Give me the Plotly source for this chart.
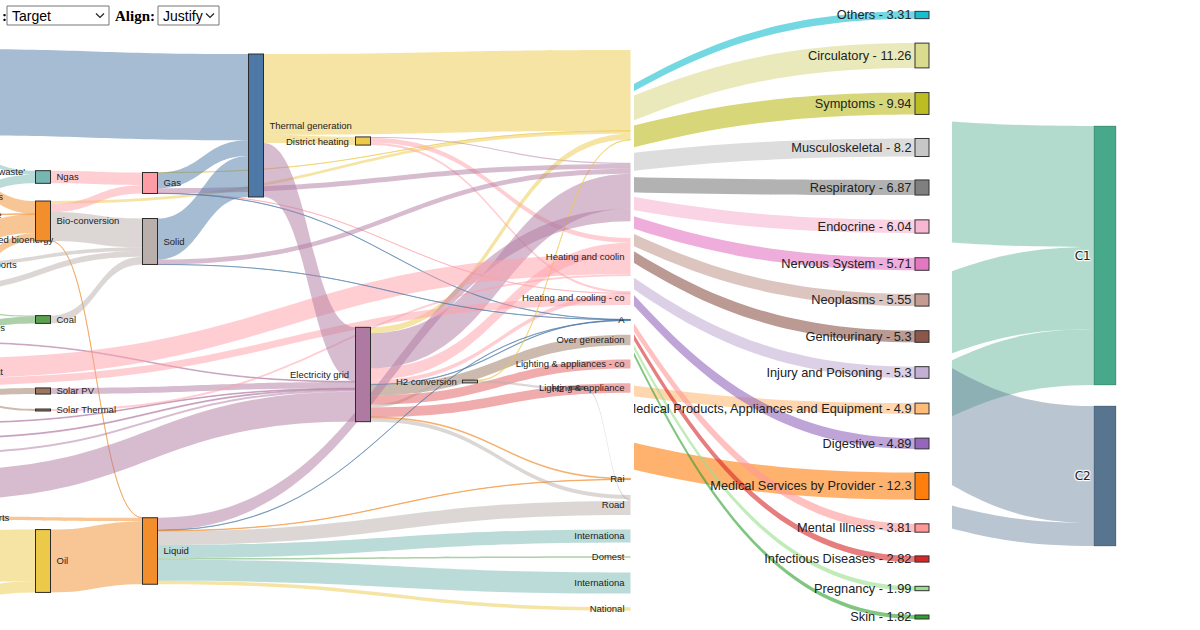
import plotly.graph_objects as go

W, H = 1200, 630

# ------------------------------------------------------------------
# DATA — left panel: energy flows (TWh)
# ------------------------------------------------------------------
energy_source = [
    "Agricultural 'waste'", "Bio-conversion", "Bio-conversion", "Bio-conversion", "Bio-conversion",
    "Biofuel imports", "Biomass imports", "Coal imports", "Coal reserves", "Coal",
    "District heating", "District heating", "District heating",
    "Electricity grid", "Electricity grid", "Electricity grid", "Electricity grid", "Electricity grid",
    "Electricity grid", "Electricity grid", "Electricity grid", "Electricity grid", "Electricity grid",
    "Electricity grid",
    "Gas imports", "Gas reserves", "Gas", "Gas", "Gas", "Gas", "Gas",
    "Geothermal", "H2 conversion", "H2 conversion", "H2", "Hydro",
    "Liquid", "Liquid", "Liquid", "Liquid", "Liquid", "Liquid", "Liquid", "Liquid",
    "Marine algae", "Ngas", "Nuclear", "Oil imports", "Oil reserves", "Oil",
    "Other waste", "Other waste", "Pumped heat", "Pumped heat", "Solar PV", "Solar Thermal",
    "Solar", "Solar", "Solid", "Solid", "Solid",
    "Thermal generation", "Thermal generation", "Thermal generation",
    "Tidal", "UK land based bioenergy", "Wave", "Wind",
]
energy_target = [
    "Bio-conversion", "Liquid", "Losses", "Solid", "Gas",
    "Liquid", "Solid", "Coal", "Coal", "Solid",
    "Industry", "Heating and cooling - commercial", "Heating and cooling - homes",
    "Over generation / exports", "Heating and cooling - homes", "H2 conversion", "Industry", "Road transport",
    "Agriculture", "Heating and cooling - commercial", "Losses", "Rail transport",
    "Lighting & appliances - commercial", "Lighting & appliances - homes",
    "Ngas", "Ngas", "Heating and cooling - commercial", "Losses", "Thermal generation", "Agriculture", "Industry",
    "Electricity grid", "H2", "Losses", "Road transport", "Electricity grid",
    "Industry", "International shipping", "Road transport", "Domestic aviation", "International aviation",
    "Agriculture", "National navigation", "Rail transport",
    "Bio-conversion", "Gas", "Thermal generation", "Oil", "Oil", "Liquid",
    "Solid", "Bio-conversion", "Heating and cooling - homes", "Heating and cooling - commercial",
    "Electricity grid", "Heating and cooling - homes",
    "Solar Thermal", "Solar PV", "Agriculture", "Thermal generation", "Industry",
    "Electricity grid", "Losses", "District heating",
    "Electricity grid", "Bio-conversion", "Electricity grid", "Electricity grid",
]
energy_value = [
    124.729, 0.597, 26.862, 280.322, 81.144,
    35, 35, 11.606, 63.965, 75.571,
    10.639, 22.505, 46.184,
    104.453, 113.726, 27.14, 342.165, 37.797,
    4.412, 40.858, 56.691, 7.863,
    90.008, 93.494,
    40.719, 82.233, 0.129, 1.401, 151.891, 2.096, 48.58,
    7.013, 20.897, 6.242, 20.897, 6.995,
    121.066, 128.69, 135.835, 14.458, 206.267,
    3.64, 33.218, 4.413,
    4.375, 122.952, 839.978, 504.287, 107.703, 611.99,
    56.587, 77.81, 193.026, 70.672,
    59.901, 19.263,
    19.263, 59.901, 0.882, 400.12, 46.477,
    525.531, 787.129, 79.329,
    9.452, 182.01, 19.013, 289.366,
]
energy_nodes = [
    "Nuclear", "Gas imports", "Agricultural 'waste'", "Gas reserves", "Marine algae",
    "UK land based bioenergy", "Biomass imports", "Other waste", "Coal imports", "Coal reserves",
    "Geothermal", "Pumped heat", "Solar", "Hydro", "Tidal", "Wave", "Wind", "Biofuel imports",
    "Oil imports", "Oil reserves",
    "Ngas", "Bio-conversion", "Coal", "Solar PV", "Solar Thermal", "Oil",
    "Gas", "Solid", "Liquid",
    "Thermal generation",
    "District heating", "Electricity grid",
    "H2 conversion", "H2",
    "Losses", "Industry", "Heating and cooling - homes", "Heating and cooling - commercial",
    "Agriculture", "Over generation / exports", "Lighting & appliances - commercial",
    "Lighting & appliances - homes", "Rail transport", "Road transport",
    "International shipping", "Domestic aviation", "International aviation", "National navigation",
]
# visible (cropped) part of the right-hand labels
energy_label_visible = {
    "Losses": "", "Industry": "",
    "Heating and cooling - homes": "Heating and coolin",
    "Heating and cooling - commercial": "Heating and cooling - co",
    "Agriculture": "A",
    "Over generation / exports": "Over generation",
    "Lighting & appliances - commercial": "Lighting & appliances - co",
    "Lighting & appliances - homes": "Lighting & appliance",
    "Rail transport": "Rai", "Road transport": "Road",
    "International shipping": "Internationa", "Domestic aviation": "Domest",
    "International aviation": "Internationa", "National navigation": "National",
}
# nodes in the right half of the energy chart carry their label on the left
energy_left_labels = ["District heating", "Electricity grid", "H2 conversion", "H2"]

# ------------------------------------------------------------------
# DATA — middle panel: health expenditure by category
# ------------------------------------------------------------------
health_categories = [
    "Others", "Circulatory", "Symptoms", "Musculoskeletal", "Respiratory", "Endocrine",
    "Nervous System", "Neoplasms", "Genitourinary", "Injury and Poisoning",
    "Medical Products, Appliances and Equipment", "Digestive", "Medical Services by Provider",
    "Mental Illness", "Infectious Diseases", "Pregnancy", "Skin",
]
health_values = [3.31, 11.26, 9.94, 8.2, 6.87, 6.04, 5.71, 5.55, 5.3, 5.3, 4.9, 4.89, 12.3,
                 3.81, 2.82, 1.99, 1.82]

# ------------------------------------------------------------------
# DATA — right panel: clusters
# ------------------------------------------------------------------
cluster_targets = ["C1", "C2"]
cluster_flow_target = ["C1", "C1", "C1", "C2", "C2"]
cluster_flow_value = [121, 82, 56, 117, 23]

# ------------------------------------------------------------------
# STYLE / LAYOUT
# ------------------------------------------------------------------
T10 = dict(blue="#4e79a7", orange="#f28e2c", red="#e15759", teal="#76b7b2", green="#59a14f",
           yellow="#edc949", purple="#af7aa1", pink="#ff9da7", brown="#9c755f", gray="#bab0ab")
energy_color = {
    "Thermal generation": T10["blue"], "Ngas": T10["teal"], "Bio-conversion": T10["orange"],
    "Gas": T10["pink"], "Solid": T10["gray"], "Coal": T10["green"], "Liquid": T10["orange"],
    "Oil": T10["yellow"], "Electricity grid": T10["purple"], "District heating": T10["yellow"],
    "Solar PV": T10["brown"], "Solar Thermal": T10["brown"], "H2 conversion": T10["gray"],
    "H2": T10["gray"], "Losses": T10["yellow"], "Industry": T10["purple"],
    "Heating and cooling - homes": T10["pink"], "Heating and cooling - commercial": T10["pink"],
    "Agriculture": T10["blue"], "Over generation / exports": T10["brown"],
    "Lighting & appliances - commercial": T10["red"], "Lighting & appliances - homes": T10["red"],
    "Rail transport": T10["orange"], "Road transport": T10["gray"],
    "International shipping": T10["teal"], "Domestic aviation": T10["green"],
    "International aviation": T10["teal"], "National navigation": T10["yellow"],
}
# node centres in px (column, y) inside the left panel
col_x = [-67, 43, 150, 256, 363, 470, 577, 638]
NODE_W = 15
energy_pos = {
    "Nuclear": (0, 92), "Gas imports": (0, 150), "Agricultural 'waste'": (0, 172),
    "Gas reserves": (0, 197), "Marine algae": (0, 215), "UK land based bioenergy": (0, 240),
    "Biomass imports": (0, 265), "Other waste": (0, 285), "Coal imports": (0, 310),
    "Coal reserves": (0, 328), "Geothermal": (0, 342), "Pumped heat": (0, 372), "Solar": (0, 395),
    "Hydro": (0, 423), "Tidal": (0, 438), "Wave": (0, 453), "Wind": (0, 485),
    "Biofuel imports": (0, 518), "Oil imports": (0, 557), "Oil reserves": (0, 595),
    "Ngas": (1, 177), "Bio-conversion": (1, 221), "Coal": (1, 319.5), "Solar PV": (1, 391),
    "Solar Thermal": (1, 410), "Oil": (1, 561),
    "Gas": (2, 183), "Solid": (2, 241.5), "Liquid": (2, 551),
    "Thermal generation": (3, 125.5),
    "District heating": (4, 141), "Electricity grid": (4, 374.5),
    "H2 conversion": (5, 381.5), "H2": (6, 388),
    "Losses": (7, 95), "Industry": (7, 192), "Heating and cooling - homes": (7, 257),
    "Heating and cooling - commercial": (7, 298), "Agriculture": (7, 320),
    "Over generation / exports": (7, 340), "Lighting & appliances - commercial": (7, 364),
    "Lighting & appliances - homes": (7, 388), "Rail transport": (7, 479),
    "Road transport": (7, 505), "International shipping": (7, 536),
    "Domestic aviation": (7, 557), "International aviation": (7, 583),
    "National navigation": (7, 609),
}
health_colors = ["#17becf", "#dbdb8d", "#bcbd22", "#c7c7c7", "#7f7f7f", "#f7b6d2", "#e377c2",
                 "#c49c94", "#8c564b", "#c5b0d5", "#ffbb78", "#9467bd", "#ff7f0e", "#ff9896",
                 "#d62728", "#98df8a", "#2ca02c"]
health_target_y = [15, 55.5, 103.5, 147.5, 187.5, 226.5, 264, 300, 336.5, 372.5, 408.5, 443.5,
                   486, 528, 559, 588.5, 617]
health_stub_y = [190, 182, 183, 182, 181, 171, 164, 155, 145, 158, 366, 98, 414, 44, 24, 6.5, -17]
cluster_color = {"C1": "#48a98a", "C2": "#587590"}
cluster_target_y = {"C1": 255.5, "C2": 476}
cluster_stub_y = [177, 340, 424, 383, 497]

CLEAR = "rgba(0,0,0,0)"
LABEL_FONT = "Liberation Sans, Arial, sans-serif"
LEFT_FONT_SIZE = 9.5


def rgba(hexc, a):
    h = hexc.lstrip("#")
    return "rgba(%d,%d,%d,%s)" % (int(h[0:2], 16), int(h[2:4], 16), int(h[4:6], 16), a)


# ---------------- left panel traces ----------------
LW = 630.0
idx = {n: i for i, n in enumerate(energy_nodes)}
out_val = {n: 0.0 for n in energy_nodes}
in_val = {n: 0.0 for n in energy_nodes}
for s, t, v in zip(energy_source, energy_target, energy_value):
    out_val[s] += v
    in_val[t] += v
sources_only = [n for n in energy_nodes if in_val[n] == 0]
ky_left = 0.1027
pad_left = (H - ky_left * sum(out_val[n] for n in sources_only)) / (len(sources_only) - 1)

e_labels, e_colors, e_x, e_y, o_x = [], [], [], [], []
for n in energy_nodes:
    col, yy = energy_pos[n]
    e_x.append(col_x[col] / LW)
    e_y.append(yy / H)
    if col == 7:
        e_labels.append(energy_label_visible[n])
        e_colors.append(CLEAR)
        o_x.append(-400 / LW)          # outline copy parked off-canvas
    else:
        e_labels.append("" if n in energy_left_labels else n)
        e_colors.append(energy_color.get(n, T10["gray"]))
        o_x.append(col_x[col] / LW)

e_src = [idx[s] for s in energy_source]
e_tgt = [idx[t] for t in energy_target]
left_font = dict(family=LABEL_FONT, size=LEFT_FONT_SIZE, color="#222", shadow="none")

left = go.Sankey(
    domain=dict(x=[0, LW / W], y=[0, 1]), arrangement="fixed", hoverinfo="skip",
    textfont=left_font,
    node=dict(label=e_labels, color=e_colors, x=e_x, y=e_y, thickness=NODE_W, pad=pad_left,
              line=dict(color=CLEAR, width=6), hoverinfo="skip"),
    link=dict(source=e_src, target=e_tgt, value=energy_value,
              color=[rgba(energy_color[t], 0.5) for t in energy_target],
              line=dict(width=0), hoverinfo="skip"),
)
# same layout again, only to draw the black node outlines of the visible columns
left_outline = go.Sankey(
    domain=dict(x=[0, LW / W], y=[0, 1]), arrangement="fixed", hoverinfo="skip",
    textfont=left_font,
    node=dict(label=[""] * len(energy_nodes), color=CLEAR, x=o_x, y=e_y, thickness=NODE_W,
              pad=pad_left, line=dict(color="#2b2b2b", width=1), hoverinfo="skip"),
    link=dict(source=e_src, target=e_tgt, value=energy_value, color=CLEAR,
              line=dict(width=0), hoverinfo="skip"),
)

# ---------------- middle panel trace ----------------
nH = len(health_categories)
ky_mid = 2.2
pad_mid = (H - ky_mid * sum(health_values)) / (nH - 1)
m_labels = [""] * nH + ["%s - %s" % (c, v) for c, v in zip(health_categories, health_values)]
m_colors = [CLEAR] * nH + health_colors
m_x = [293 / W] * nH + [922 / W] * nH
m_y = [y / H for y in health_stub_y] + [y / H for y in health_target_y]
middle = go.Sankey(
    domain=dict(x=[0, 1], y=[0, 1]), arrangement="fixed", hoverinfo="skip",
    textfont=dict(family=LABEL_FONT, size=12.8, color="#222", shadow="none"),
    node=dict(label=m_labels, color=m_colors, x=m_x, y=m_y, thickness=14, pad=pad_mid,
              line=dict(color="#333", width=1), hoverinfo="skip"),
    link=dict(source=list(range(nH)), target=[nH + i for i in range(nH)], value=health_values,
              color=[rgba(c, 0.6) for c in health_colors],
              line=dict(width=0), hoverinfo="skip"),
)

# ---------------- right panel trace ----------------
nC = len(cluster_flow_value)
ky_right = 1.0
pad_right = (H - ky_right * sum(cluster_flow_value)) / (nC - 1)
r_labels = [""] * nC + cluster_targets
r_colors = [CLEAR] * nC + [cluster_color[c] for c in cluster_targets]
r_x = [789 / W] * nC + [1105 / W] * len(cluster_targets)
r_y = [y / H for y in cluster_stub_y] + [cluster_target_y[c] / H for c in cluster_targets]
right = go.Sankey(
    domain=dict(x=[0, 1], y=[0, 1]), arrangement="fixed", hoverinfo="skip",
    textfont=dict(family="DejaVu Sans, Verdana, sans-serif", size=12, color="#222"),
    node=dict(label=r_labels, color=r_colors, x=r_x, y=r_y, thickness=22, pad=pad_right,
              line=dict(color="rgba(0,0,0,0.3)", width=0.6), hoverinfo="skip"),
    link=dict(source=list(range(nC)),
              target=[nC + cluster_targets.index(t) for t in cluster_flow_target],
              value=cluster_flow_value,
              color=[rgba(cluster_color[t], 0.42) for t in cluster_flow_target],
              line=dict(width=0), hoverinfo="skip"),
)


def mask(x_end):
    return go.Sankey(
        domain=dict(x=[0, x_end / W], y=[0, 1]), arrangement="fixed", hoverinfo="skip",
        node=dict(label=["", ""], color="white", thickness=20, pad=0,
                  x=[10 / x_end, (x_end - 10) / x_end], y=[0.5, 0.5],
                  line=dict(color="white", width=0), hoverinfo="skip"),
        link=dict(source=[0], target=[1], value=[1], color="white", hovercolor="white",
                  line=dict(width=0), hoverinfo="skip"),
    )


fig = go.Figure([right, mask(952), middle, mask(634), left, left_outline])


def px(x):
    return x / W


def py_(y):
    return 1 - y / H


shapes = []
for x0, x1 in [(7, 109), (158, 219)]:
    shapes.append(dict(type="rect", xref="paper", yref="paper", x0=px(x0), x1=px(x1),
                       y0=py_(25), y1=py_(6), line=dict(color="#767676", width=1),
                       fillcolor="white", layer="above"))
for cx in [100, 210]:
    shapes.append(dict(type="path", xref="paper", yref="paper",
                       path="M %f %f L %f %f L %f %f" % (px(cx - 4), py_(13.5), px(cx), py_(17.5),
                                                         px(cx + 4), py_(13.5)),
                       line=dict(color="#222", width=1.2), layer="above"))
annotations = [
    dict(x=px(0), y=py_(15.5), xref="paper", yref="paper", xanchor="left", yanchor="middle",
         text="<b>:</b>", showarrow=False, font=dict(family="Liberation Serif, serif", size=15, color="#000")),
    dict(x=px(10), y=py_(15.5), xref="paper", yref="paper", xanchor="left", yanchor="middle",
         text="Target", showarrow=False, font=dict(family="Liberation Sans, Arial", size=14, color="#000")),
    dict(x=px(113), y=py_(15.5), xref="paper", yref="paper", xanchor="left", yanchor="middle",
         text="<b>Align:</b>", showarrow=False, font=dict(family="Liberation Serif, serif", size=15, color="#000")),
    dict(x=px(161), y=py_(15.5), xref="paper", yref="paper", xanchor="left", yanchor="middle",
         text="Justify", showarrow=False, font=dict(family="Liberation Sans, Arial", size=14, color="#000")),
]
# labels placed on the left-hand side of their node
for n in energy_left_labels:
    col, yy = energy_pos[n]
    annotations.append(dict(x=px(col_x[col] - NODE_W / 2 - 5), y=py_(yy), xref="paper", yref="paper",
                            xanchor="right", yanchor="middle", text=n, showarrow=False,
                            borderpad=0, font=dict(family=LABEL_FONT, size=LEFT_FONT_SIZE, color="#222")))

fig.update_layout(width=W, height=H, margin=dict(l=0, r=0, t=0, b=0),
                  paper_bgcolor="white", plot_bgcolor="white", hovermode=False,
                  shapes=shapes, annotations=annotations, showlegend=False)
fig.write_html("out.html")
